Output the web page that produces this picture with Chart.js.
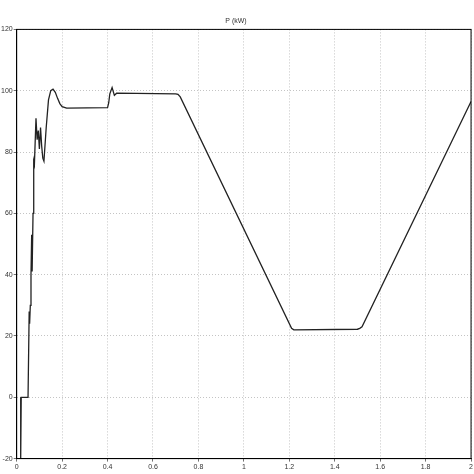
<!DOCTYPE html>
<html>
<head>
<script src="https://cdn.jsdelivr.net/npm/chart.js@4"></script>
<style>
  html, body { margin: 0; padding: 0; background: #fff; }
  #wrap { width: 474px; height: 474px; }
</style>
</head>
<body>
<div id="wrap"><canvas id="chart"></canvas></div>
<script>
// time (s) and power (kW)
const timeS = [0, 0.015, 0.016, 0.018, 0.019, 0.02, 0.05, 0.055, 0.057, 0.06, 0.063, 0.066, 0.068, 0.072, 0.075, 0.078,
  0.085, 0.09, 0.095, 0.1, 0.105, 0.11, 0.115, 0.12, 0.13, 0.14, 0.15, 0.16, 0.17, 0.18, 0.19, 0.2, 0.22, 0.4, 0.405, 0.41, 0.42, 0.43, 0.44,
  0.7, 0.71, 0.72, 1.21, 1.22, 1.5, 1.51, 1.52, 2.0];
const powerKW = [-20, -20, 0, 0, -20, 0, 0, 28, 24, 30, 40, 53, 41, 60, 77, 76,
  91, 84, 87, 81, 88, 82, 78, 77, 88, 97, 100, 100.5, 99.5, 97.5, 95.8, 94.8, 94.3, 94.5, 96, 99, 101, 98.5, 99.2,
  99, 98.8, 98, 22.5, 22, 22.2, 22.5, 23, 96.5];
const xTicks = [0, 0.2, 0.4, 0.6, 0.8, 1, 1.2, 1.4, 1.6, 1.8, 2];
const yTicks = [-20, 0, 20, 40, 60, 80, 100, 120];

const points = timeS.map((t, i) => ({ x: t, y: powerKW[i] }));
const tickFont = { size: 7, family: 'Liberation Sans' };

new Chart(document.getElementById('chart').getContext('2d'), {
  type: 'line',
  data: {
    datasets: [{
      data: points,
      borderColor: '#222',
      borderWidth: 1.3,
      pointRadius: 0,
      tension: 0
    }]
  },
  options: {
    responsive: true,
    maintainAspectRatio: false,
    animation: false,
    layout: { padding: { left: 0, right: 2, top: 9, bottom: 2 } },
    plugins: {
      legend: { display: false },
      tooltip: { enabled: false },
      title: { display: true, text: 'P (kW)', color: '#333', font: { size: 7, family: 'Liberation Sans', weight: 'normal' }, padding: { top: 8, bottom: 4 } }
    },
    scales: {
      x: {
        type: 'linear', min: 0, max: 2,
        afterBuildTicks: s => { s.ticks = xTicks.map(v => ({ value: v })); },
        ticks: { color: '#333', font: tickFont, maxRotation: 0, padding: 1, callback: v => String(Math.round(v * 10) / 10) },
        grid: { color: '#aaa', lineWidth: 0.7, tickLength: 3, tickColor: '#333' },
        border: { color: '#000', dash: [1, 2] }
      },
      y: {
        min: -20, max: 120,
        afterBuildTicks: s => { s.ticks = yTicks.map(v => ({ value: v })); },
        ticks: { color: '#333', font: tickFont, padding: 1 },
        grid: { color: '#aaa', lineWidth: 0.7, tickLength: 3, tickColor: '#333' },
        border: { color: '#000', dash: [1, 2] }
      }
    }
  },
  plugins: [{
    id: 'box',
    afterDraw(c) {
      const a = c.chartArea, g = c.ctx;
      g.save(); g.strokeStyle = '#000'; g.lineWidth = 1;
      g.strokeRect(a.left, a.top, a.right - a.left, a.bottom - a.top);
      g.restore();
    }
  }]
});
</script>
</body>
</html>
